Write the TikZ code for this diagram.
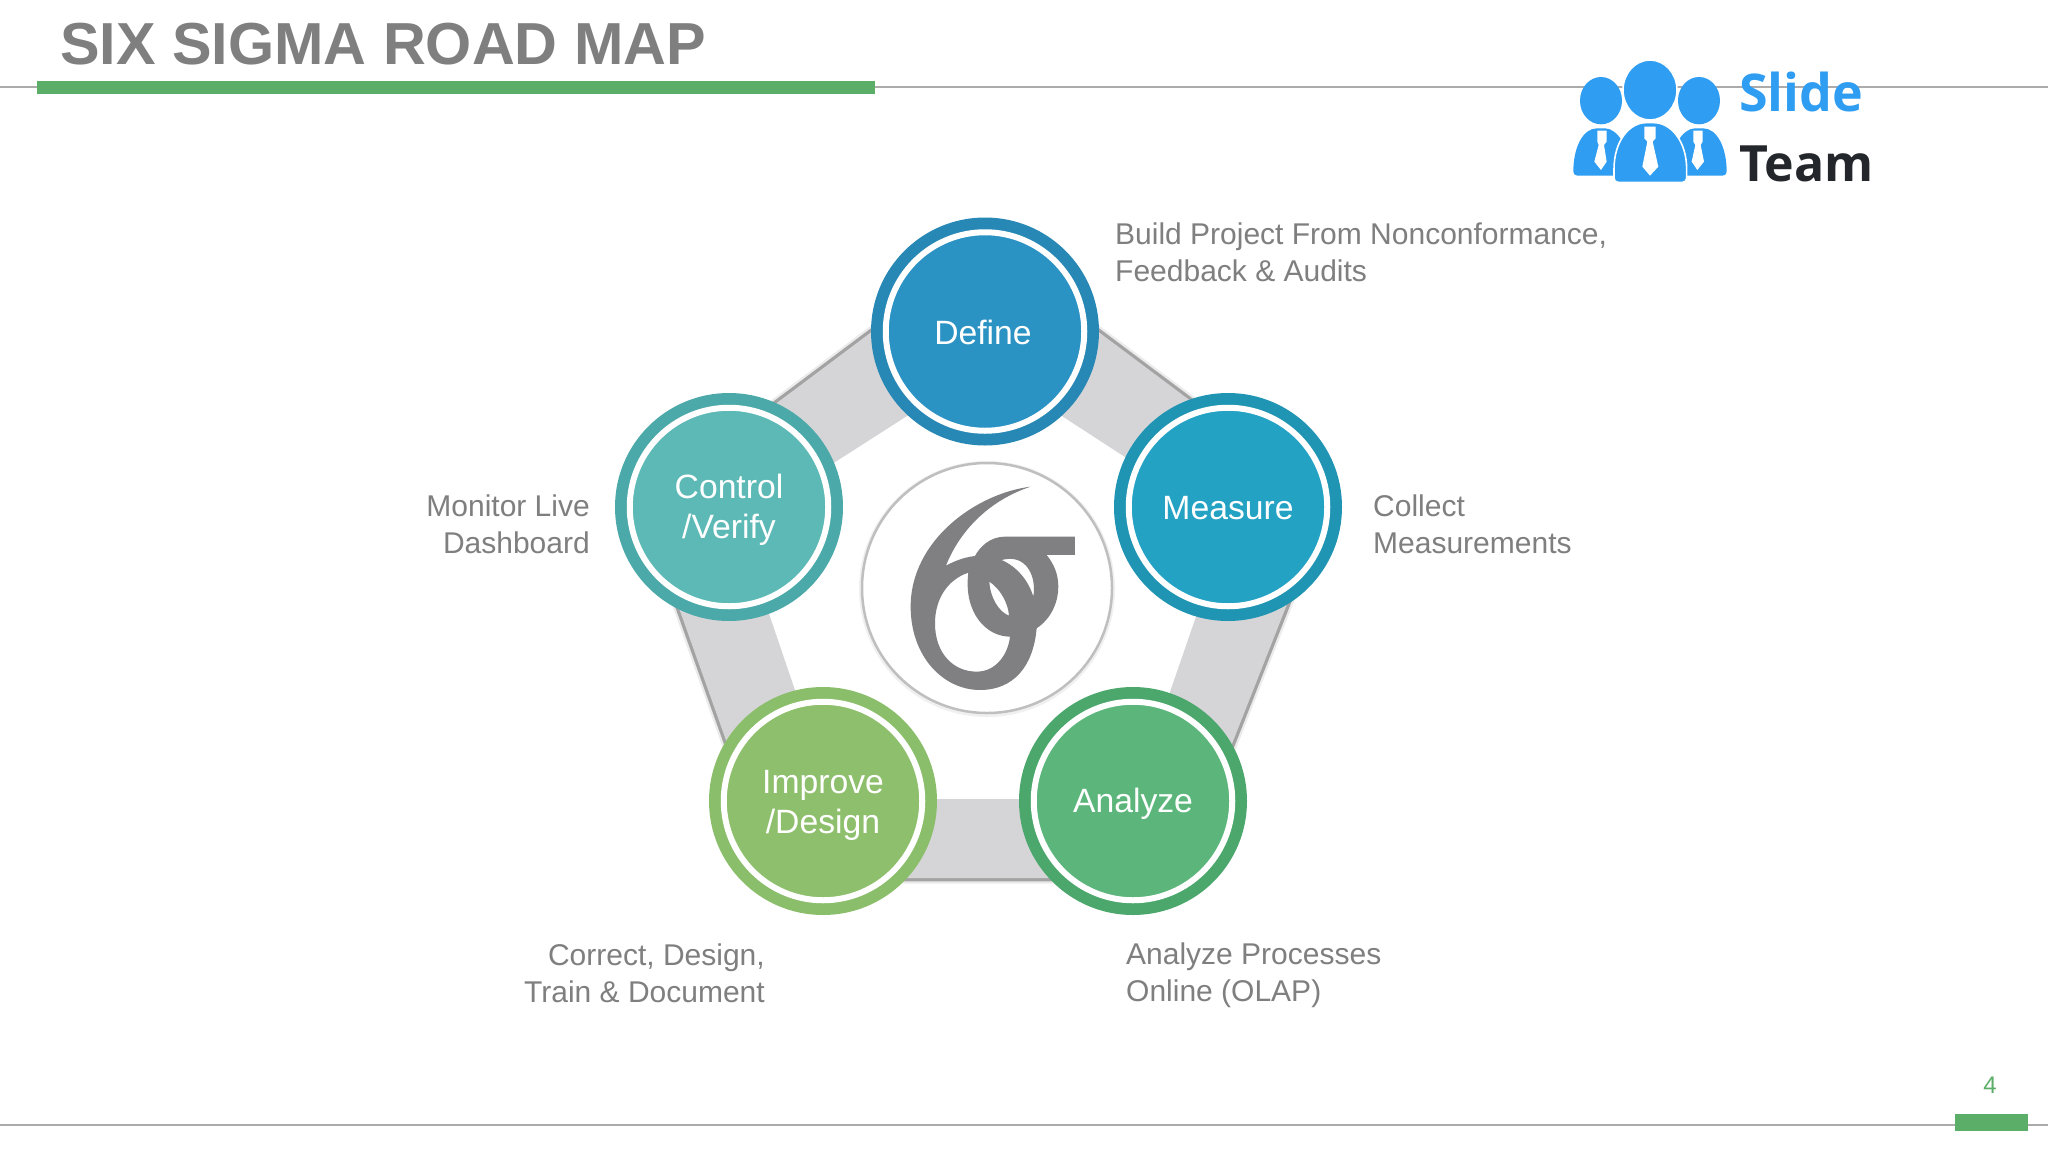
\documentclass[tikz,border=0pt]{standalone}
\usepackage{fontspec}
\setmainfont{Liberation Sans}
\newfontfamily\logofont{Open Sans}
\definecolor{txtgray}{HTML}{7F7F7F}
\definecolor{rulegray}{HTML}{ABABAB}
\definecolor{bargreen}{HTML}{5BAE68}
\definecolor{bandgray}{HTML}{D5D5D7}
\definecolor{sigmagray}{HTML}{807F82}
\definecolor{logoblue}{HTML}{2E9DF2}
\definecolor{logoblack}{HTML}{23262A}
\definecolor{defA}{HTML}{2788B5}\definecolor{defB}{HTML}{2B92C4}
\definecolor{meaA}{HTML}{1F95B3}\definecolor{meaB}{HTML}{23A2C4}
\definecolor{conA}{HTML}{4BA9A9}\definecolor{conB}{HTML}{5CB9B6}
\definecolor{impA}{HTML}{8BBE6B}\definecolor{impB}{HTML}{8EBF6C}
\definecolor{anaA}{HTML}{4BA76C}\definecolor{anaB}{HTML}{5CB67C}
\tikzset{
  stagering/.style={circle,minimum size=228pt,inner sep=0pt,outer sep=0pt},
  stagedisc/.style={circle,minimum size=198.5pt,inner sep=0pt,draw=white,line width=6pt},
  stagetext/.style={inner sep=0pt,align=center,text=white,font=\fontsize{33.7}{40}\selectfont},
  sidenote/.style={inner sep=0pt,text=txtgray,font=\fontsize{30}{36.6}\selectfont},
}
\begin{document}
\begin{tikzpicture}[x=1pt,y=-1pt]
\useasboundingbox (0,0) rectangle (2048,1152);
\fill[white] (0,0) rectangle (2048,1152);
% rules and title
\fill[rulegray] (0,86) rectangle (2048,88);
\fill[rulegray] (0,1123.5) rectangle (2048,1125.5);
\fill[bargreen] (37,81) rectangle (875,94);
\fill[bargreen] (1955,1114) rectangle (2028,1131);
\node[anchor=base west,inner sep=0pt,text=txtgray,font=\fontsize{59.3}{60}\selectfont\bfseries] (title) at (60,64.5) {SIX SIGMA ROAD MAP};
\node[inner sep=0pt,text=bargreen,font=\fontsize{24}{28}\selectfont] (pageno) at (1990,1085) {4};
% pentagon band
\coordinate (pT) at (985,247);\coordinate (pR) at (1327,503);\coordinate (pBR) at (1179,878);\coordinate (pBL) at (775,878);\coordinate (pL) at (642,504);
\coordinate (qT) at (985,366);\coordinate (qR) at (1228,524);\coordinate (qBR) at (1133,799);\coordinate (qBL) at (832,799);\coordinate (qL) at (738.5,524);
\draw[line width=11pt,line join=miter,draw=black!8] (pT)--(pR)--(pBR)--(pBL)--(pL)--cycle;
\draw[line width=6.5pt,line join=miter,draw=black!36] (pT)--(pR)--(pBR)--(pBL)--(pL)--cycle;
\fill[bandgray,even odd rule] (pT)--(pR)--(pBR)--(pBL)--(pL)--cycle (qT)--(qR)--(qBR)--(qBL)--(qL)--cycle;
% centre disc
\fill[black!6] (987,589) circle (128);
\filldraw[fill=white,draw=black!25,line width=2.5pt] (987,588) circle (125);
\begin{scope}[shift={(820,420)},x=0.3333pt,y=-0.3333pt]
\fill[sigmagray,even odd rule]
 (632,200) .. controls (470,220) and (272,360) .. (272,560)
 .. controls (272,710) and (370,810) .. (480,810)
 .. controls (580,810) and (640,740) .. (650,625)
 .. controls (695,595) and (715,545) .. (715,500)
 .. controls (715,460) and (700,430) .. (680,405)
 -- (765,405) -- (765,350) -- (555,350)
 .. controls (510,350) and (480,380) .. (465,408)
 .. controls (430,412) and (400,425) .. (378,437)
 .. controls (420,330) and (510,240) .. (632,200) -- cycle
 (445,458) .. controls (380,480) and (345,540) .. (345,610)
 .. controls (345,700) and (400,755) .. (470,755)
 .. controls (530,755) and (565,700) .. (570,650)
 .. controls (500,650) and (430,580) .. (445,458) -- cycle
 (508,485) .. controls (510,530) and (535,575) .. (567,587)
 .. controls (565,550) and (540,505) .. (508,485) -- cycle
 (545,420) .. controls (590,440) and (625,480) .. (640,530)
 .. controls (650,470) and (620,400) .. (545,420) -- cycle;
\end{scope}
% stages
\node[stagering,fill=defA] (defineR) at (985,331.5) {};
\node[stagedisc,fill=defB] (define) at (985,331.5) {};
\node[stagetext] (defineT) at (983,332) {Define};
\node[stagering,fill=meaA] (measureR) at (1228,507) {};
\node[stagedisc,fill=meaB] (measure) at (1228,507) {};
\node[stagetext] (measureT) at (1228,508) {Measure};
\node[stagering,fill=anaA] (analyzeR) at (1133,801) {};
\node[stagedisc,fill=anaB] (analyze) at (1133,801) {};
\node[stagetext] (analyzeT) at (1133,804) {Analyze};
\node[stagering,fill=impA] (improveR) at (823,801) {};
\node[stagedisc,fill=impB] (improve) at (823,801) {};
\node[stagetext] (improveT) at (823,805) {Improve\\/Design};
\node[stagering,fill=conA] (controlR) at (729,507) {};
\node[stagedisc,fill=conB] (control) at (729,507) {};
\node[stagetext] (controlT) at (729,510) {Control\\/Verify};
% notes
\node[sidenote,anchor=west,align=left] (n1) at (1115,252) {Build Project From Nonconformance,\\Feedback \& Audits};
\node[sidenote,anchor=west,align=left] (n2) at (1373,524) {Collect\\Measurements};
\node[sidenote,anchor=west,align=left] (n3) at (1126,975) {Analyze Processes\\Online (OLAP)};
\node[sidenote,anchor=east,align=right] (n4) at (765,973) {Correct, Design,\\Train \& Document};
\node[sidenote,anchor=east,align=right] (n5) at (590,524) {Monitor Live\\Dashboard};
% logo
\begin{scope}[shift={(1540,30)},x=0.3333pt,y=-0.3333pt]
\fill[logoblue,rounded corners=4pt] (100,437) .. controls (100,350) and (130,295) .. (183,295) .. controls (230,295) and (270,350) .. (270,437) -- cycle;
\fill[logoblue,rounded corners=4pt] (560,437) .. controls (560,350) and (530,295) .. (477,295) .. controls (430,295) and (390,350) .. (390,437) -- cycle;
\fill[logoblue] (183,212) ellipse [x radius=63,y radius=71];
\fill[logoblue] (477,212) ellipse [x radius=63,y radius=71];
\filldraw[fill=logoblue,draw=white,line width=1.6pt,rounded corners=4pt] (222,457) -- (222,430) .. controls (222,330) and (270,278) .. (330,278) .. controls (390,278) and (440,330) .. (440,430) -- (440,457) -- cycle;
\filldraw[fill=logoblue,draw=white,line width=1.6pt] (330,180) ellipse [x radius=81,y radius=90];
\fill[white] (313,290)--(347,290)--(347,325)--(338,335)--(355,410)--(330,437)--(307,410)--(322,335)--(313,325)--cycle;
\fill[white] (172,302)--(200,302)--(200,335)--(192,345)--(200,395)--(183,420)--(163,395)--(176,345)--(172,335)--cycle;
\fill[white] (460,302)--(488,302)--(488,335)--(482,345)--(492,395)--(472,420)--(455,395)--(466,345)--(460,335)--cycle;
\node[anchor=base west,inner sep=0pt,text=logoblue,font=\logofont\fontsize{52}{52}\selectfont\bfseries] (slide) at (597,245) {Slide};
\node[anchor=base west,inner sep=0pt,text=logoblack,font=\logofont\fontsize{50}{52}\selectfont\bfseries] (team) at (597,455) {Team};
\end{scope}
\end{tikzpicture}
\end{document}
